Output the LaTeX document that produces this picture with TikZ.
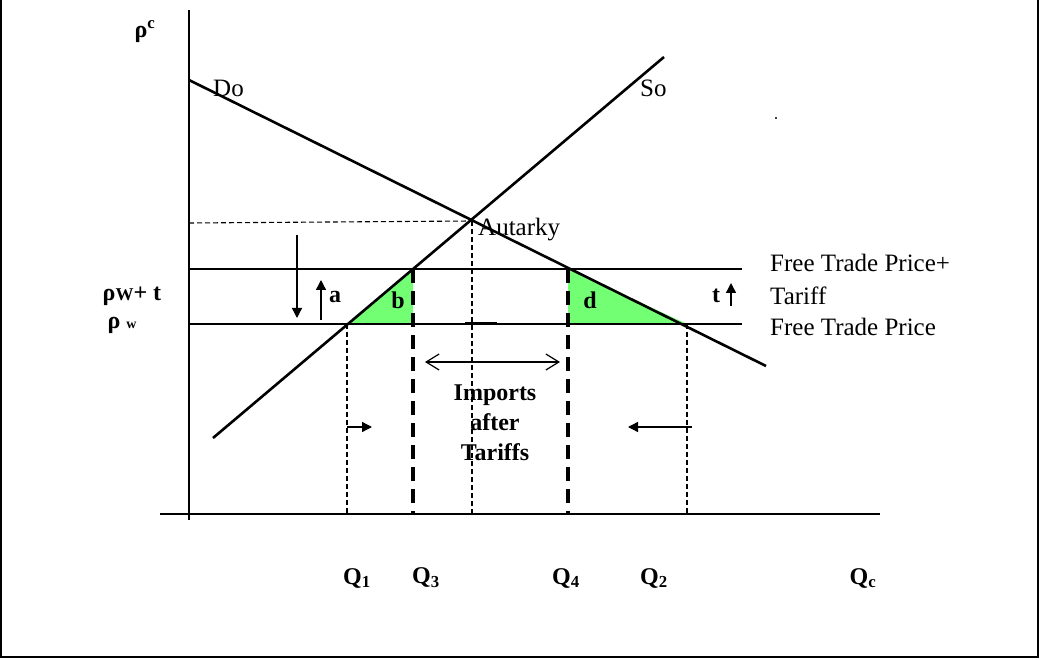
\documentclass[tikz,border=0pt]{standalone}
\usepackage{fontspec}
\setmainfont{Liberation Serif}
\usetikzlibrary{arrows.meta}
\begin{document}
\begin{tikzpicture}[x=1pt,y=-1pt,
  lbl/.style={font=\fontsize{25}{30}\selectfont,inner sep=0pt},
  blbl/.style={font=\bfseries\fontsize{24}{28}\selectfont,inner sep=0pt},
  curve/.style={line width=2.6pt},
  thin dash/.style={dashed,dash pattern=on 5pt off 3pt,line width=1.1pt},
  thick dash/.style={dash pattern=on 14pt off 8pt,line width=3.2pt}]
\useasboundingbox (0,0) rectangle (1042,660);
\fill[white] (0,0) rectangle (1042,660);
\draw[line width=1.2pt] (1,-2) -- (1,657) -- (1038,657) -- (1038,-2);
% green areas
\fill[green!55] (348,324) -- (413,269) -- (413,324) -- cycle;
\fill[green!55] (568,269) -- (687,324) -- (568,324) -- cycle;
% axes
\coordinate (yt) at (189,10); \coordinate (yb) at (189,520);
\coordinate (xl) at (160,514); \coordinate (xr) at (880,514);
\draw[line width=1.6pt] (yt) -- (yb);
\draw[line width=1.6pt] (xl) -- (xr);
% price lines
\coordinate (pt1) at (189,269); \coordinate (pt2) at (742,269);
\coordinate (pw1) at (189,324); \coordinate (pw2) at (742,324);
\draw[line width=1.5pt] (pt1) -- (pt2);
\draw[line width=1.5pt] (pw1) -- (pw2);
% curves
\coordinate (d1) at (189,80); \coordinate (d2) at (766,366);
\coordinate (s1) at (213,438); \coordinate (s2) at (664,57);
\draw[curve] (d1) -- (d2);
\draw[curve] (s1) -- (s2);
\coordinate (aut) at (472,221);
% dashed
\draw[thin dash] (189,223) -- (aut);
\draw[thin dash] (aut) -- (472,514);
\draw[thin dash] (347,324) -- (347,514);
\draw[thin dash] (687,324) -- (687,514);
\draw[thick dash] (413,269) -- (413,514);
\draw[thick dash] (568,269) -- (568,514);
\draw[line width=3pt] (465,324) -- (497,324);
% arrows
\coordinate (ia) at (425,362); \coordinate (ib) at (560,362);
\draw[line width=1.2pt,{Straight Barb[length=13pt,width=16pt]}-{Straight Barb[length=13pt,width=16pt]}] (ia) -- (ib);
\draw[line width=1.4pt,-{Triangle[length=10pt,width=10pt]}] (347,427) -- (372,427);
\draw[line width=1.4pt,-{Triangle[length=10pt,width=10pt]}] (692,427) -- (628,427);
\draw[line width=1.4pt,-{Triangle[length=10pt,width=10pt]}] (297,235) -- (297,318);
\draw[line width=1.4pt,-{Triangle[length=10pt,width=10pt]}] (321,320) -- (321,280);
\draw[line width=1.4pt,-{Triangle[length=10pt,width=10pt]}] (731,306) -- (731,283);
% labels
\node[blbl] (pc) at (145,32) {ρ\textsuperscript{c}};
\node[blbl] (pwt) at (132,296) {ρ{\fontsize{18}{18}\selectfont W}+ t};
\node[blbl] (pw) at (122,325) {ρ\ {\fontsize{14}{14}\selectfont w}};
\node[lbl,anchor=west] (do) at (213,88) {Do};
\node[lbl,anchor=west] (so) at (640,88) {So};
\node[lbl,anchor=west] (autl) at (478,230) {Autarky};
\node[blbl] (a) at (335,297) {a};
\node[blbl] (b) at (398,300) {b};
\node[blbl] (dd) at (590,300) {d};
\node[blbl] (t) at (716,296) {t};
\node[lbl,anchor=west] (f1) at (770,263) {Free Trade Price+};
\node[lbl,anchor=west] (f2) at (770,296) {Tariff};
\node[lbl,anchor=west] (f3) at (770,327) {Free Trade Price};
\node[blbl,align=center,font=\bfseries\fontsize{24}{30}\selectfont] (imp) at (495,423) {Imports\\after\\Tariffs};
\node[blbl] (q1) at (357,578) {Q\textsubscript{1}};
\node[blbl] (q3) at (426,578) {Q\textsubscript{3}};
\node[blbl] (q4) at (566,578) {Q\textsubscript{4}};
\node[blbl] (q2) at (654,578) {Q\textsubscript{2}};
\node[blbl] (qc) at (863,578) {Q\textsubscript{c}};
\fill (776,118) circle (1.2pt);
\end{tikzpicture}
\end{document}
